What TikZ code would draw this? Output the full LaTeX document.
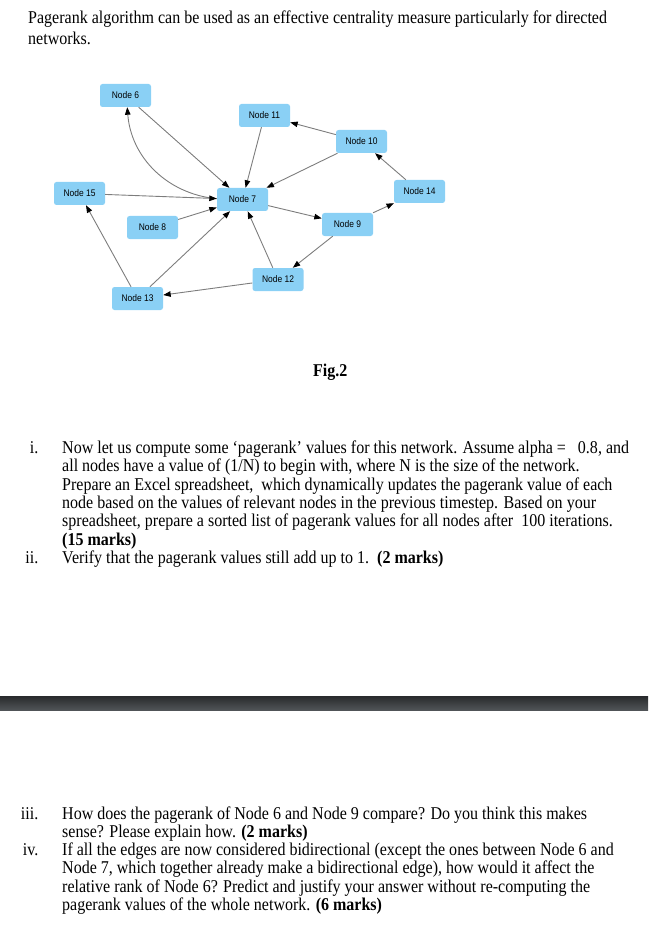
\documentclass[tikz,border=0pt]{standalone}
\usepackage{fontspec}
\setmainfont{Liberation Serif}[FakeStretch=0.89]
\newfontfamily\nodefont{Liberation Sans}[FakeStretch=0.88]
\usetikzlibrary{arrows.meta}
\definecolor{boxblue}{RGB}{138,208,245}
\definecolor{edgegray}{RGB}{125,125,125}
\definecolor{bartop}{RGB}{40,42,44}
\definecolor{barbot}{RGB}{80,84,87}
\begin{document}
\begin{tikzpicture}[x=1pt,y=-1pt,
  gnode/.style={fill=boxblue,draw=none,rounded corners=2.5pt,minimum width=51pt,minimum height=23pt,inner sep=0pt,font=\nodefont\fontsize{9.6}{10}\selectfont},
  edge/.style={draw=edgegray,line width=0.9pt,-{Triangle[length=7.5pt,width=5.5pt,black]}},
  txt/.style={anchor=base west,inner sep=0pt,font=\fontsize{18}{20}\selectfont},
  lab/.style={anchor=base east,inner sep=0pt,font=\fontsize{18}{20}\selectfont}]
\useasboundingbox (0,0) rectangle (648,933);
% text top
\node[txt] (t1) at (28,24) {Pagerank algorithm can be used as an effective centrality measure particularly for directed};
\node[txt] (t2) at (28,45) {networks.};
% graph
\node[gnode] (n6) at (125.5,95.5) {Node 6};
\node[gnode] (n15) at (79.5,193.5) {Node 15};
\node[gnode] (n7) at (242.5,199.5) {Node 7};
\node[gnode] (n11) at (264.5,115.5) {Node 11};
\node[gnode] (n10) at (361.5,141.5) {Node 10};
\node[gnode] (n14) at (419.5,191.5) {Node 14};
\node[gnode] (n9) at (347.5,224.5) {Node 9};
\node[gnode] (n8) at (152.5,227.5) {Node 8};
\node[gnode] (n12) at (278,279.5) {Node 12};
\node[gnode] (n13) at (137.5,298.5) {Node 13};
\draw[edge] (n6) -- (n7);
\draw[edge] (n7) to[bend left=40] (n6);
\draw[edge] (n15) -- (n7);
\draw[edge] (n8) -- (n7);
\draw[edge] (n13) -- (n7);
\draw[edge] (n13) -- (n15);
\draw[edge] (n12) -- (n7);
\draw[edge] (n12) -- (n13);
\draw[edge] (n9) -- (n12);
\draw[edge] (n7) -- (n9);
\draw[edge] (n9) -- (n14);
\draw[edge] (n14) -- (n10);
\draw[edge] (n10) -- (n11);
\draw[edge] (n10) -- (n7);
\draw[edge] (n11) -- (n7);
\node[txt,font=\bfseries\fontsize{18}{20}\selectfont] (fig) at (313,376) {Fig.2};
% list i, ii
\node[lab] (li) at (38.5,453.5) {i.};
\node[txt] (a1) at (62,453.5) {Now let us compute some ‘pagerank’ values for this network. Assume alpha =\hspace{12pt}0.8, and};
\node[txt] (a2) at (62,471.8) {all nodes have a value of (1/N) to begin with, where N is the size of the network.};
\node[txt] (a3) at (62,490.1) {Prepare an Excel spreadsheet,\ \ which dynamically updates the pagerank value of each};
\node[txt] (a4) at (62,508.4) {node based on the values of relevant nodes in the previous timestep. Based on your};
\node[txt] (a5) at (62,526.7) {spreadsheet, prepare a sorted list of pagerank values for all nodes after\ \ 100 iterations.};
\node[txt] (a6) at (62,545.0) {\textbf{(15 marks)}};
\node[lab] (lii) at (38.5,563.3) {ii.};
\node[txt] (a7) at (62,563.3) {Verify that the pagerank values still add up to 1.\ \ \textbf{(2 marks)}};
% bar
\shade[top color=bartop,bottom color=barbot] (0,696) rectangle (648,710);
% list iii, iv
\node[lab] (liii) at (38.5,819) {iii.};
\node[txt] (b1) at (62,819) {How does the pagerank of Node 6 and Node 9 compare? Do you think this makes};
\node[txt] (b2) at (62,837.3) {sense? Please explain how. \textbf{(2 marks)}};
\node[lab] (liv) at (38.5,855.6) {iv.};
\node[txt] (b3) at (62,855.6) {If all the edges are now considered bidirectional (except the ones between Node 6 and};
\node[txt] (b4) at (62,873.9) {Node 7, which together already make a bidirectional edge), how would it affect the};
\node[txt] (b5) at (62,892.2) {relative rank of Node 6? Predict and justify your answer without re-computing the};
\node[txt] (b6) at (62,910.5) {pagerank values of the whole network. \textbf{(6 marks)}};
\end{tikzpicture}
\end{document}
